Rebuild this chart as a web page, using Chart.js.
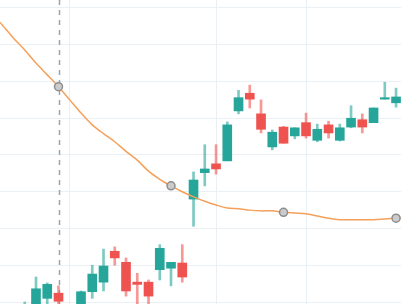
<!DOCTYPE html>
<html>
<head>
<meta charset="utf-8">
<script src="https://cdn.jsdelivr.net/npm/chart.js@4.4.1/dist/chart.umd.min.js"></script>
<style>
  html, body { margin: 0; padding: 0; background: #fff; overflow: hidden; }
  #wrap { width: 401px; height: 304px; position: relative; }
</style>
</head>
<body>
<div id="wrap"><canvas id="chart"></canvas></div>
<script>
// ── Data ─────────────────────────────────────────────────────────────────────
const candleIdx = [0, 1, 2, 3, 4, 5, 6, 7, 8, 9, 10, 11, 12, 13, 14, 15, 16, 17,
  18, 19, 20, 21, 22, 23, 24, 25, 26, 27, 28, 29, 30, 31, 32, 33];
const opens  = [99.0, 99.5, 100.5, 101.2, 99.4, 99.5, 101.4, 102.7, 106.9, 105.4, 102.7, 102.7,
  104.4, 104.6, 105.3, 114.0, 117.6, 118.8, 119.2, 126.0, 128.4, 125.6, 121.1, 123.8,
  122.6, 124.4, 122.0, 124.1, 122.0, 123.8, 124.8, 124.4, 127.6, 127.1];
const highs  = [100.0, 103.4, 102.6, 102.2, 99.6, 101.5, 105.0, 107.2, 107.5, 106.0, 103.9, 103.0,
  107.8, 105.4, 107.8, 117.7, 121.4, 121.4, 124.5, 128.8, 129.5, 127.5, 123.4, 123.9,
  123.7, 125.7, 124.2, 124.6, 124.2, 126.7, 125.6, 126.4, 129.9, 129.1];
const lows   = [98.4, 99.0, 99.5, 99.6, 98.6, 99.2, 100.5, 101.5, 105.0, 100.8, 99.5, 99.7,
  103.0, 102.2, 102.7, 110.3, 115.8, 117.4, 119.2, 125.6, 126.4, 123.0, 120.7, 121.6,
  122.2, 122.3, 121.8, 122.3, 121.9, 123.7, 123.0, 124.4, 127.6, 126.5];
const closes = [99.5, 101.8, 102.4, 100.1, 99.0, 101.4, 103.8, 104.9, 106.0, 101.5, 102.4, 100.8,
  107.3, 105.4, 103.4, 116.6, 118.1, 118.1, 124.1, 127.8, 127.6, 123.5, 123.1, 121.6,
  123.7, 122.6, 123.5, 123.0, 123.7, 125.0, 123.8, 126.4, 127.8, 127.9];

const lineIdx = [-3, -2, -1, 0, 1, 2, 3, 4, 5, 6, 7, 8, 9, 10, 11, 12, 13, 14, 15, 16,
  17, 18, 19, 20, 21, 22, 23, 24, 25, 26, 27, 28, 29, 30, 31, 32, 33, 34];
const lineValues = [139.3, 137.7, 135.9, 134.3, 132.5, 130.9, 129.3, 127.5, 125.7, 124.1,
  122.9, 121.8, 120.5, 119.3, 117.8, 116.7, 115.8, 115.0, 114.3, 113.7,
  113.2, 112.8, 112.7, 112.5, 112.4, 112.4, 112.2, 112.1, 112.0, 111.7,
  111.4, 111.2, 111.2, 111.2, 111.2, 111.3, 111.4, 111.5];
const markerIdx = [3, 13, 23, 33];
const crosshairIdx = 3;

const xGridIdx = [4, 17, 25];
const yGridValues = [100, 105, 110, 115, 120, 125, 130, 135, 140];

// ── Styles ───────────────────────────────────────────────────────────────────
const UP = '#26a69a';
const DOWN = '#ef5350';
const UP_WICK = 'rgba(38,166,154,0.6)';
const DOWN_WICK = 'rgba(239,83,80,0.6)';
const GRID = '#ebf0f4';

// ── Build datasets ───────────────────────────────────────────────────────────
const isUp = i => closes[i] >= opens[i];

const bodyData = candleIdx.map((x, i) => ({ x, y: [opens[i], closes[i]] }));
const wickData = candleIdx.map((x, i) => ({ x, y: [lows[i], highs[i]] }));
const lineData = lineIdx.map((x, i) => ({ x, y: lineValues[i] }));

const crosshair = {
  id: 'crosshair',
  beforeDatasetsDraw(chart) {
    const { ctx, chartArea, scales } = chart;
    const px = Math.round(scales.x.getPixelForValue(crosshairIdx)) + 0.5;
    ctx.save();
    ctx.strokeStyle = '#9ea3a8';
    ctx.lineWidth = 1.5;
    ctx.setLineDash([5, 5]);
    ctx.beginPath();
    ctx.moveTo(px, chartArea.top);
    ctx.lineTo(px, chartArea.bottom);
    ctx.stroke();
    ctx.restore();
  }
};

new Chart(document.getElementById('chart').getContext('2d'), {
  type: 'bar',
  data: {
    datasets: [
      {
        type: 'line',
        data: lineData,
        borderColor: '#f5a05a',
        borderWidth: 1.5,
        tension: 0.3,
        pointRadius: ctx => markerIdx.includes(ctx.raw && ctx.raw.x) ? 4 : 0,
        pointBackgroundColor: '#cbcbcb',
        pointBorderColor: '#8e8e8e',
        pointBorderWidth: 1.5,
        order: 1
      },
      {
        data: bodyData,
        backgroundColor: candleIdx.map((_, i) => isUp(i) ? UP : DOWN),
        barThickness: 9,
        grouped: false,
        order: 2
      },
      {
        data: wickData,
        backgroundColor: candleIdx.map((_, i) => isUp(i) ? UP_WICK : DOWN_WICK),
        barThickness: 2,
        grouped: false,
        order: 3
      }
    ]
  },
  options: {
    responsive: true,
    maintainAspectRatio: false,
    animation: false,
    layout: { padding: 0 },
    plugins: {
      legend: { display: false },
      tooltip: { enabled: false }
    },
    scales: {
      x: {
        type: 'linear',
        min: -2.2,
        max: 33.44,
        offset: false,
        border: { display: false },
        grid: { color: GRID, drawTicks: false, offset: false },
        ticks: { display: false },
        afterBuildTicks: axis => { axis.ticks = xGridIdx.map(v => ({ value: v })); }
      },
      y: {
        type: 'linear',
        min: 99.728,
        max: 141.088,
        border: { display: false },
        grid: { color: GRID, drawTicks: false },
        ticks: { display: false },
        afterBuildTicks: axis => { axis.ticks = yGridValues.map(v => ({ value: v })); }
      }
    }
  },
  plugins: [crosshair]
});
</script>
</body>
</html>
